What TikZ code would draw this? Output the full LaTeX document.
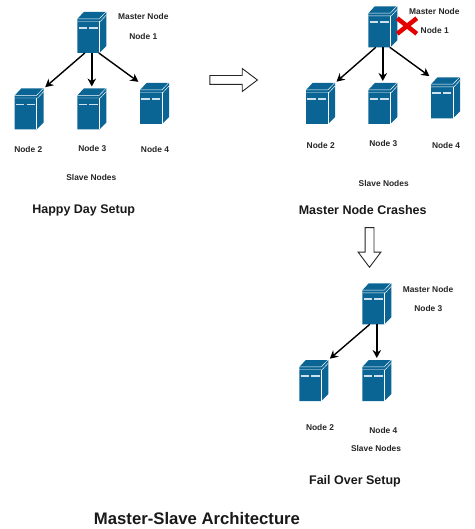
\documentclass[tikz,border=0pt]{standalone}
\usepackage{fontspec}
\setmainfont{Liberation Sans}
\definecolor{serverblue}{HTML}{0A6595}
\usetikzlibrary{arrows.meta, shapes.arrows, shapes.misc}

\begin{document}
\begin{tikzpicture}[
  x=1pt, y=-1pt,
  serverbox/.style={anchor=south west, minimum width=29pt, minimum height=41pt, inner sep=0pt, outer sep=0pt},
  label/.style={font=\fontsize{8.4}{10}\selectfont\bfseries, text=black!85, inner sep=0pt},
  title/.style={font=\fontsize{12.5}{15}\selectfont\bfseries, text=black!90, inner sep=0pt},
  mainlabel/.style={font=\fontsize{16.7}{20}\selectfont\bfseries, text=black!90, inner sep=0pt},
  link/.style={-{Stealth[length=8pt,width=8.5pt]}, line width=1.4pt, shorten >=2pt},
  bigarrow/.style={draw=black!85, fill=white, line width=0.9pt, single arrow, inner xsep=0pt, inner ysep=4pt,
                   minimum width=22pt, single arrow head extend=7pt, single arrow tip angle=74},
  crossmark/.style={draw=red!90!black, cross out, line width=4.5pt, inner sep=0pt,
                    minimum width=15pt, minimum height=11pt},
  pics/server/.style={code={
    \fill[serverblue] (0,0) -- (0,-34) -- (6.5,-41) -- (29,-41) -- (29,-7) -- (22,0) -- cycle;
    \draw[white, line width=0.45pt] (0,-34.2) -- (22,-34.2) -- (28.5,-41);
    \draw[white, line width=0.45pt] (0,-31.5) -- (23,-31.5) -- (29,-38);
    \draw[white, line width=0.6pt] (22,-31.5) -- (22,0);
    \draw[white!80!serverblue, line width=1.8pt] (1.3,-25) -- (9.7,-25) (12,-25) -- (20.4,-25);
    \node[serverbox] (-box) at (0,0) {};
  }},
]
\useasboundingbox (0,0) rectangle (474,529);

\pic (h1) at (77.3,53) {server};
\pic (h2) at (14.7,129.5) {server};
\pic (h3) at (77.3,129.5) {server};
\pic (h4) at (140,124) {server};
\draw[link] ([xshift=-7pt]h1-box.south) -- (h2-box.north east);
\draw[link] (h1-box.south) -- (h3-box.north);
\draw[link] ([xshift=7pt]h1-box.south) -- (h4-box.north west);
\node[label] (h1a) at (143.3,17) {Master Node};
\node[label] (h1b) at (143.3,36.7) {Node 1};
\node[label] (h2a) at (28.3,149) {Node 2};
\node[label] (h3a) at (92.3,149) {Node 3};
\node[label] (h4a) at (155,149) {Node 4};
\node[label] (hs) at (91.3,177) {Slave Nodes};
\node[title] (ht) at (83.7,210.3) {Happy Day Setup};

\node[bigarrow, minimum height=47.6pt] (ar1) at (230.7,80) {};

\pic (c1) at (368.3,47.3) {server};
\pic (c2) at (306,124) {server};
\pic (c3) at (368.3,124) {server};
\pic (c4) at (431,118.3) {server};
\draw[link] ([xshift=-7pt]c1-box.south) -- (c2-box.north east);
\draw[link] (c1-box.south) -- (c3-box.north);
\draw[link] ([xshift=7pt]c1-box.south) -- (c4-box.north west);
\node[crossmark] (cx) at (407,26) {};
\node[label] (c1a) at (434.3,11.7) {Master Node};
\node[label] (c1b) at (434.7,31) {Node 1};
\node[label] (c2a) at (320.7,145) {Node 2};
\node[label] (c3a) at (383.3,143.3) {Node 3};
\node[label] (c4a) at (446,145) {Node 4};
\node[label] (cs) at (383.7,183.7) {Slave Nodes};
\node[title] (ct) at (362.7,210.3) {Master Node Crashes};

\node[bigarrow, minimum height=39.6pt, rotate=-90] (ar2) at (369.5,244.5) {};

\pic (f3) at (362.3,324.3) {server};
\pic (f2) at (299.3,401) {server};
\pic (f4) at (362.3,401) {server};
\draw[link] ([xshift=-7pt]f3-box.south) -- (f2-box.north east);
\draw[link] (f3-box.south) -- (f4-box.north);
\node[label] (f3a) at (428,289) {Master Node};
\node[label] (f3b) at (428.3,308.3) {Node 3};
\node[label] (f2a) at (320,427.3) {Node 2};
\node[label] (f4a) at (383.3,430.7) {Node 4};
\node[label] (fs) at (376,448.3) {Slave Nodes};
\node[title] (ft) at (355,481.7) {Fail Over Setup};

\node[mainlabel] (main) at (197,519) {Master-Slave Architecture};
\end{tikzpicture}
\end{document}
